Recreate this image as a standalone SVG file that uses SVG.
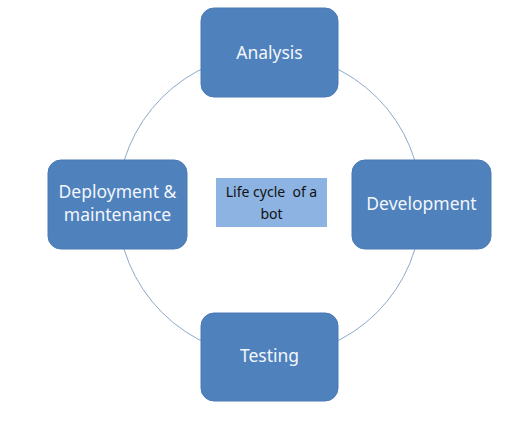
<svg xmlns="http://www.w3.org/2000/svg" width="522" height="424" viewBox="0 0 522 424">
<style>
.node rect{fill:#4F81BD;stroke:#4A7AB5;stroke-width:1}
.node text{fill:#F2F6FB;font-family:"Noto Sans","Liberation Sans",sans-serif;font-size:17.5px;text-anchor:middle}
.lbl rect{fill:#8DB3E2}
.lbl text{fill:#111111;font-family:"Noto Sans","Liberation Sans",sans-serif;font-size:14px;text-anchor:middle;white-space:pre}
</style>
<rect width="522" height="424" fill="#ffffff"/>
<g id="connectors">
<circle cx="269.5" cy="205" r="152" fill="none" stroke="#8EA9C9" stroke-width="1"/>
</g>
<g id="analysis" class="node"><rect x="201" y="8" width="137" height="89" rx="13"/><text x="269.5" y="59">Analysis</text></g>
<g id="development" class="node"><rect x="352" y="160" width="139" height="89" rx="13"/><text x="421.5" y="210">Development</text></g>
<g id="testing" class="node"><rect x="201" y="313" width="137" height="88" rx="13"/><text x="269.5" y="362">Testing</text></g>
<g id="deployment" class="node"><rect x="48" y="160" width="139" height="89" rx="13"/><text x="117.5" y="198">Deployment &amp;</text><text x="117.5" y="221">maintenance</text></g>
<g id="center" class="lbl"><rect x="216" y="178" width="111" height="49"/><text x="271.5" y="197" xml:space="preserve">Life cycle  of a</text><text x="271.5" y="219">bot</text></g>
</svg>
